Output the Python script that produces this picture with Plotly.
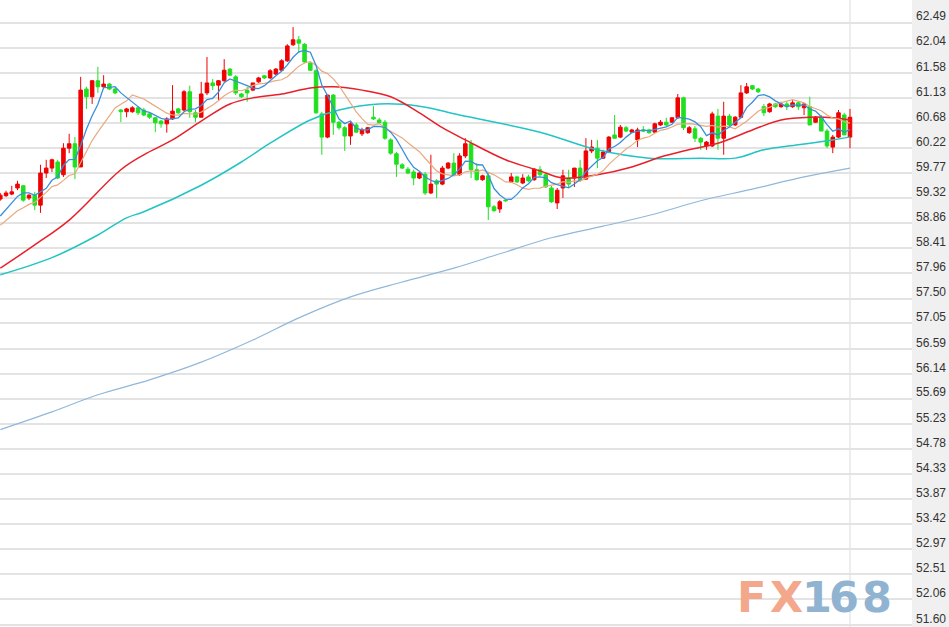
import plotly.graph_objects as go
import pandas as pd

opens = [59.30,59.36,59.39,59.50,59.54,59.32,59.37,59.19,59.77,59.86,
         59.97,59.74,60.22,60.30,59.88,61.29,61.15,61.44,61.33,61.38,
         61.29,60.91,60.88,60.88,60.95,60.91,60.84,60.77,60.71,60.66,
         60.75,60.93,60.91,61.24,60.86,60.78,61.22,61.40,61.36,61.44,
         61.65,61.51,61.20,61.27,61.27,61.42,61.53,61.49,61.56,61.63,
         61.80,62.09,62.18,62.10,61.76,61.62,60.84,60.42,61.18,60.69,
         60.59,60.44,60.64,60.48,60.50,60.78,60.73,60.69,60.37,60.12,
         59.92,59.84,59.79,59.68,59.75,59.41,59.63,59.57,59.86,59.95,
         59.74,60.08,60.30,59.83,59.65,59.72,59.16,59.12,59.28,59.61,
         59.70,59.59,59.70,59.65,59.83,59.74,59.50,59.23,59.50,59.68,
         59.68,59.86,59.66,60.17,60.22,60.04,60.15,60.46,60.42,60.59,
         60.51,60.37,60.55,60.55,60.51,60.64,60.69,60.69,60.77,61.13,
         60.50,60.57,60.40,60.26,60.26,60.80,60.40,60.80,60.64,60.78,
         61.22,61.35,61.29,60.97,60.88,61.02,60.97,61.02,60.97,61.04,
         60.95,60.97,60.69,60.78,60.53,60.24,60.42,60.82,60.42]
highs = [59.41,59.45,59.54,59.63,59.55,59.39,59.43,59.92,60.01,60.03,
         60.01,60.31,60.48,60.42,61.51,61.33,61.45,61.69,61.54,61.40,
         61.31,60.93,60.95,60.98,60.97,60.95,60.86,60.78,60.73,60.78,
         61.36,60.95,61.27,61.35,60.91,61.42,61.87,61.47,61.45,61.83,
         61.67,61.54,61.22,61.33,61.40,61.51,61.54,61.65,61.67,61.83,
         62.10,62.41,62.25,62.12,61.78,61.65,60.88,61.18,61.20,60.71,
         60.62,60.69,60.68,60.59,60.60,60.98,60.77,60.73,60.40,60.15,
         59.95,59.88,59.83,59.79,59.79,60.10,59.66,59.90,59.97,60.13,
         60.13,60.40,60.37,59.95,59.74,59.79,59.19,59.28,59.30,59.77,
         59.72,59.75,59.74,59.86,59.90,59.77,59.54,59.50,59.83,59.83,
         59.86,60.01,60.40,60.37,60.37,60.19,60.44,60.82,60.64,60.62,
         60.57,60.59,60.62,60.57,60.68,60.73,60.77,60.78,61.20,61.15,
         60.62,60.62,60.42,60.35,60.88,60.93,61.06,60.84,60.80,61.36,
         61.40,61.36,61.31,61.02,61.04,61.04,61.06,61.06,61.09,61.07,
         61.04,61.15,60.80,60.82,60.57,60.46,60.91,60.86,60.93]
lows = [59.27,59.34,59.37,59.46,59.25,59.28,59.10,59.05,59.68,59.79,
        59.66,59.70,60.13,59.66,59.88,60.93,61.02,61.22,61.31,61.27,
        61.20,60.69,60.78,60.86,60.82,60.80,60.75,60.51,60.59,60.50,
        60.73,60.84,60.89,60.77,60.69,60.78,61.18,61.27,61.09,61.42,
        61.53,61.18,61.13,61.06,61.25,61.40,61.47,61.47,61.54,61.62,
        61.78,62.07,61.94,61.76,61.62,60.84,60.10,60.40,60.46,60.55,
        60.17,60.28,60.50,60.44,60.48,60.73,60.66,60.37,60.10,59.70,
        59.84,59.75,59.55,59.66,59.37,59.39,59.32,59.55,59.84,59.72,
        59.72,60.04,59.68,59.63,59.63,58.92,59.07,59.05,59.25,59.59,
        59.59,59.57,59.61,59.63,59.72,59.50,59.23,59.12,59.32,59.50,
        59.52,59.61,59.65,60.13,59.86,60.03,60.13,60.39,60.40,60.51,
        60.50,60.24,60.51,60.48,60.50,60.62,60.62,60.68,60.75,60.55,
        60.48,60.33,60.19,60.19,60.24,60.19,60.10,60.62,60.62,60.77,
        61.20,61.27,61.22,60.80,60.86,60.95,60.95,60.91,60.95,60.91,
        60.82,60.64,60.68,60.53,60.22,60.13,60.40,60.46,60.22]
closes = [59.37,59.41,59.43,59.57,59.28,59.37,59.19,59.77,59.86,60.01,
          59.68,60.22,60.30,59.88,61.27,61.15,61.44,61.33,61.38,61.29,
          61.22,60.88,60.93,60.95,60.86,60.82,60.78,60.68,60.66,60.75,
          60.89,60.86,61.24,60.88,60.78,61.20,61.40,61.35,61.44,61.63,
          61.54,61.22,61.15,61.22,61.40,61.49,61.49,61.62,61.65,61.80,
          62.07,62.18,62.12,61.78,61.63,60.86,60.42,61.18,60.69,60.59,
          60.44,60.66,60.51,60.55,60.59,60.75,60.68,60.40,60.13,59.93,
          59.86,59.77,59.68,59.77,59.41,59.57,59.57,59.86,59.95,59.74,
          60.08,60.30,59.83,59.65,59.72,59.16,59.09,59.25,59.27,59.70,
          59.61,59.68,59.63,59.84,59.74,59.52,59.25,59.46,59.72,59.57,
          59.86,59.65,60.17,60.24,60.04,60.15,60.42,60.40,60.60,60.53,
          60.55,60.55,60.53,60.50,60.66,60.69,60.64,60.77,61.13,60.59,
          60.59,60.40,60.33,60.33,60.84,60.40,60.80,60.64,60.78,61.22,
          61.33,61.29,61.24,60.86,61.02,60.97,61.02,60.97,61.04,60.97,
          61.02,60.64,60.78,60.53,60.26,60.42,60.86,60.46,60.78]

# closes before the visible window (needed for the short moving averages)
prior_closes = [58.56,58.60,58.65,58.71,58.78,58.83,58.89,58.92,58.96]

# longer moving averages: (bar index, value)
ma20_idx = [0,6,12,21,25,30,35,40,44,49,54,58,63,68,73,77,81,88,94,98,104,110,115,119,125,131,136,141,145,148]
ma20_val = [58.05,58.47,58.92,59.83,60.10,60.37,60.71,61.02,61.13,61.20,61.31,61.33,61.27,61.15,60.86,60.59,60.37,60.01,59.81,59.68,59.74,59.88,60.06,60.17,60.31,60.55,60.73,60.78,60.77,60.73]
ma60_idx = [0,9,17,22,25,35,42,47,54,59,66,73,80,94,104,113,122,128,133,139,145,148]
ma60_val = [57.93,58.24,58.65,58.96,59.07,59.55,59.97,60.31,60.73,60.91,61.02,60.98,60.82,60.51,60.19,60.04,60.04,60.04,60.19,60.28,60.37,60.42]
ma120_idx = [0,9,17,26,35,44,52,61,70,79,87,96,105,114,122,131,140,148]
ma120_val = [55.13,55.45,55.76,56.03,56.35,56.75,57.15,57.53,57.80,58.05,58.31,58.60,58.81,59.03,59.27,59.48,59.70,59.86]

tick_vals = [51.60,52.06,52.51,52.97,53.42,53.87,54.33,54.78,55.23,55.69,56.14,56.59,
             57.05,57.50,57.96,58.41,58.86,59.32,59.77,60.22,60.68,61.13,61.58,62.04,62.49]
tick_text = ["%.2f" % v for v in tick_vals]

watermark_chars = ["F", "X", "1", "6", "8"]
watermark_colors = ["#f3a88c", "#f3a88c", "#8fb3d0", "#8fb3d0", "#8fb3d0"]

n = len(closes)
x = list(range(n))

all_closes = pd.Series(prior_closes + closes)
ma5 = all_closes.rolling(5).mean().iloc[len(prior_closes):].tolist()
ma10 = all_closes.rolling(10).mean().iloc[len(prior_closes):].tolist()

RED = "#f00000"
GREEN = "#1fe01f"
PLOT_W = 912

fig = go.Figure()

fig.add_trace(go.Scatter(x=ma120_idx, y=ma120_val, mode="lines", line=dict(color="#8fb8da", width=1.2, shape="spline"), hoverinfo="skip"))
fig.add_trace(go.Scatter(x=ma60_idx, y=ma60_val, mode="lines", line=dict(color="#22c4c4", width=1.5, shape="spline"), hoverinfo="skip"))
fig.add_trace(go.Scatter(x=ma20_idx, y=ma20_val, mode="lines", line=dict(color="#e8202a", width=1.5, shape="spline"), hoverinfo="skip"))

fig.add_trace(go.Candlestick(
    x=x, open=opens, high=highs, low=lows, close=closes,
    increasing=dict(line=dict(color=RED, width=1), fillcolor=RED),
    decreasing=dict(line=dict(color=GREEN, width=1), fillcolor=GREEN),
    whiskerwidth=0, hoverinfo="skip"))

fig.add_trace(go.Scatter(x=x, y=ma10, mode="lines", line=dict(color="#e8aa80", width=1.2), hoverinfo="skip"))
fig.add_trace(go.Scatter(x=x, y=ma5, mode="lines", line=dict(color="#3a8fdc", width=1.3), hoverinfo="skip"))

fig.add_shape(type="line", xref="x", yref="paper", x0=n - 1, x1=n - 1, y0=0, y1=1,
              line=dict(color="#dcdcdc", width=1), layer="below")
fig.add_shape(type="rect", xref="paper", yref="paper", x0=1, x1=1 + 40 / PLOT_W, y0=0, y1=1,
              fillcolor="#f0f0f0", line=dict(width=0), layer="below")

# watermark, one glyph per annotation to get the wide letter spacing
wm_centers_px = [751, 786, 817, 844, 877]
for ch, col, cx in zip(watermark_chars, watermark_colors, wm_centers_px):
    fig.add_annotation(xref="paper", yref="paper", x=cx / PLOT_W, y=1 - 597 / 627,
                       xanchor="center", yanchor="middle", showarrow=False,
                       text="<b>%s</b>" % ch,
                       font=dict(family="DejaVu Sans", size=43, color=col))

fig.update_layout(
    width=949, height=627,
    margin=dict(l=0, r=949 - PLOT_W, t=0, b=0),
    paper_bgcolor="white", plot_bgcolor="white",
    showlegend=False, boxgap=0.12,
    xaxis=dict(range=[-0.05, 158.8], showgrid=False, zeroline=False, showticklabels=False,
               ticks="", rangeslider=dict(visible=False), fixedrange=True),
    yaxis=dict(range=[51.56, 62.90], side="right", tickvals=tick_vals, ticktext=tick_text,
               showgrid=True, gridcolor="#e3e3e3", gridwidth=1.5, zeroline=False,
               ticks="", ticklabelposition="outside top", ticklabelstandoff=3,
               ticklabelshift=2,
               tickfont=dict(family="Liberation Sans", size=12, color="#333333"),
               automargin=False, fixedrange=True),
)

fig.write_html("out.html", config={"displayModeBar": False},
               post_script="document.body.style.margin='0';document.body.style.overflow='hidden';")
